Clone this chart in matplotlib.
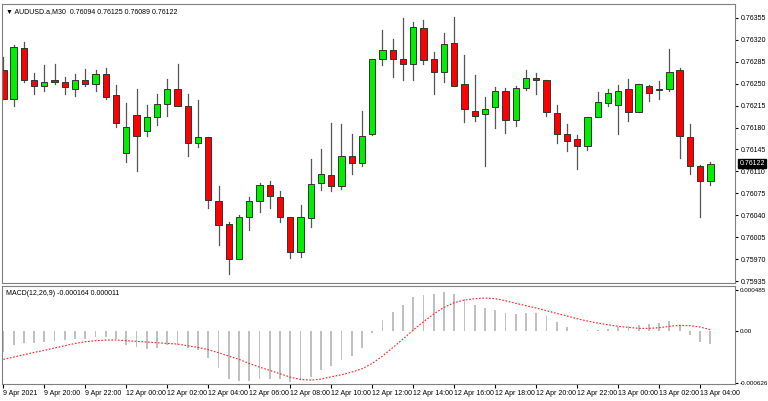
import matplotlib
matplotlib.use("Agg")
import matplotlib.pyplot as plt
from matplotlib.patches import Rectangle

opens = [76271,76226,76307,76256,76247,76256,76252,76241,76255,76249,76265,76232,76139,76200,76175,76196,76217,76241,76214,76155,
         76165,76063,76026,75970,76037,76062,76088,76069,76037,75981,76035,76091,76105,76086,76134,76124,76169,76290,76304,76289,
         76281,76339,76290,76269,76314,76250,76207,76201,76212,76239,76192,76243,76259,76255,76203,76170,76161,76150,76196,76219,
         76216,76241,76205,76247,76240,76242,76271,76165,76118,76094]
closes = [76225,76308,76255,76247,76253,76252,76244,76255,76250,76266,76228,76187,76181,76166,76196,76217,76241,76214,76155,76165,
          76064,76025,75970,76038,76062,76088,76071,76037,75982,76037,76090,76106,76087,76135,76123,76167,76289,76303,76290,76281,
          76340,76287,76269,76313,76247,76210,76199,76210,76238,76192,76243,76259,76255,76205,76169,76159,76150,76196,76220,76235,
          76239,76205,76249,76235,76242,76269,76166,76118,76095,76122]
highs = [76293,76312,76316,76267,76280,76281,76261,76266,76274,76271,76275,76248,76219,76242,76216,76233,76257,76281,76233,76224,
         76165,76087,76030,76040,76069,76092,76094,76079,76037,76057,76130,76146,76187,76186,76169,76206,76289,76335,76321,76355,
         76349,76352,76300,76331,76357,76296,76263,76228,76244,76243,76247,76272,76267,76256,76216,76186,76168,76196,76236,76241,
         76248,76258,76249,76248,76254,76305,76275,76186,76121,76125]
lows = [76225,76215,76252,76233,76239,76250,76233,76230,76246,76238,76226,76181,76125,76110,76167,76184,76199,76214,76134,76149,
        76051,75992,75947,75970,76017,76046,76051,76030,75972,75974,76021,76081,76078,76082,76106,76118,76168,76279,76261,76256,
        76256,76281,76234,76252,76247,76189,76191,76118,76180,76172,76182,76240,76234,76198,76156,76142,76114,76144,76196,76215,
        76170,76191,76205,76223,76225,76238,76131,76106,76038,76088]

macd = [-250,-171,-151,-151,-131,-119,-111,-103,-95,-79,-79,-103,-171,-191,-222,-210,-171,-171,-210,-230,
        -330,-449,-576,-599,-599,-576,-576,-576,-615,-588,-548,-468,-421,-349,-302,-210,-32,127,218,306,
        397,429,437,461,437,373,306,266,246,206,199,214,214,175,107,48,-3,8,8,20,
        40,56,67,79,87,119,67,-52,-139,-164]
signal = [-341,-314,-286,-258,-234,-206,-179,-151,-131,-119,-111,-111,-119,-127,-135,-143,-151,-159,-179,-199,
          -226,-262,-302,-341,-389,-433,-472,-512,-552,-580,-588,-576,-548,-524,-492,-453,-389,-302,-202,-99,
          8,107,199,278,333,365,381,389,381,357,326,298,270,238,206,175,143,115,91,71,
          52,40,28,28,36,52,64,60,44,12]

xlabels = ["9 Apr 2021","9 Apr 20:00","9 Apr 22:00"] + ["12 Apr %02d:00" % h for h in range(0,24,2)] + \
          ["13 Apr 00:00","13 Apr 02:00","13 Apr 04:00"]
price_ticks = [76355,76320,76285,76250,76215,76180,76145,76110,76075,76040,76005,75970,75935]

plt.rcParams['font.family'] = ['Liberation Sans', 'DejaVu Sans']
fig = plt.figure(figsize=(7.68,4.01), dpi=100)
W, H = 768, 401
def ax_rect(l, t, r, b):
    return [l/W, 1-b/H, (r-l)/W, (b-t)/H]
ax = fig.add_axes(ax_rect(2,4,735,283))
ax2 = fig.add_axes(ax_rect(2,286,735,384))
FS = 5.0
n = len(opens)
bw = 0.62
for i in range(n):
    o, c, h, l = [v/1e5 for v in (opens[i], closes[i], highs[i], lows[i])]
    ax.plot([i,i],[l,h], color="#555555", lw=0.9, zorder=1)
    col = "#00ee00" if c >= o else "#ff0000"
    lo = min(o,c); hgt = max(abs(c-o), 0.000015)
    if abs(closes[i]-opens[i]) <= 2: col = "#008000"
    ax.add_patch(Rectangle((i-bw/2, lo), bw, hgt, facecolor=col, edgecolor="#333333", lw=0.7, zorder=2))
ax.set_xlim(-0.13, 71.4)
ax.set_ylim(0.75932, 0.76377)
ax.yaxis.tick_right()
ax.set_yticks([p/1e5 for p in price_ticks])
ax.set_yticklabels(["%.5f" % (p/1e5) for p in price_ticks], fontsize=FS)
ax.tick_params(axis='y', length=2, pad=2, colors="#000000")
ax.set_xticks([])
ax.text(0.005, 0.985, "\u25bc AUDUSD.a,M30  0.76094 0.76125 0.76089 0.76122", transform=ax.transAxes,
        fontsize=FS, va="top", ha="left")
ax.text(1.006, 0.76122, "0.76122", transform=ax.get_yaxis_transform(), fontsize=FS, color="white",
        va="center", ha="left", bbox=dict(facecolor="black", edgecolor="black", pad=0.8), zorder=5, clip_on=False)

ax2.bar(range(n), [m/1e6 for m in macd], width=0.18, color="#c0c0c0", zorder=1)
ax2.plot(range(n), [s/1e6 for s in signal], color="#ff2020", lw=0.8, ls=(0,(1.5,1.5)), zorder=2)
ax2.set_xlim(-0.13, 71.4)
ax2.set_ylim(-0.000634, 0.000532)
ax2.yaxis.tick_right()
ax2.set_yticks([0.000485, 0.0, -0.000626])
ax2.set_yticklabels(["0.000485","0.00","-0.000626"], fontsize=4.5)
ax2.tick_params(axis='y', length=2, pad=1.5)
ax2.set_xticks(list(range(0, n, 4)))
ax2.set_xticklabels(xlabels, fontsize=FS, ha="left")
ax2.tick_params(axis='x', length=3, pad=1.5)
ax2.text(0.005, 0.96, "MACD(12,26,9) -0.000164 0.000011", transform=ax2.transAxes, fontsize=FS, va="top")
for a in (ax, ax2):
    for s in a.spines.values():
        s.set_color("#808080"); s.set_linewidth(0.8)
fig.savefig("out.png", dpi=100, facecolor="white")
